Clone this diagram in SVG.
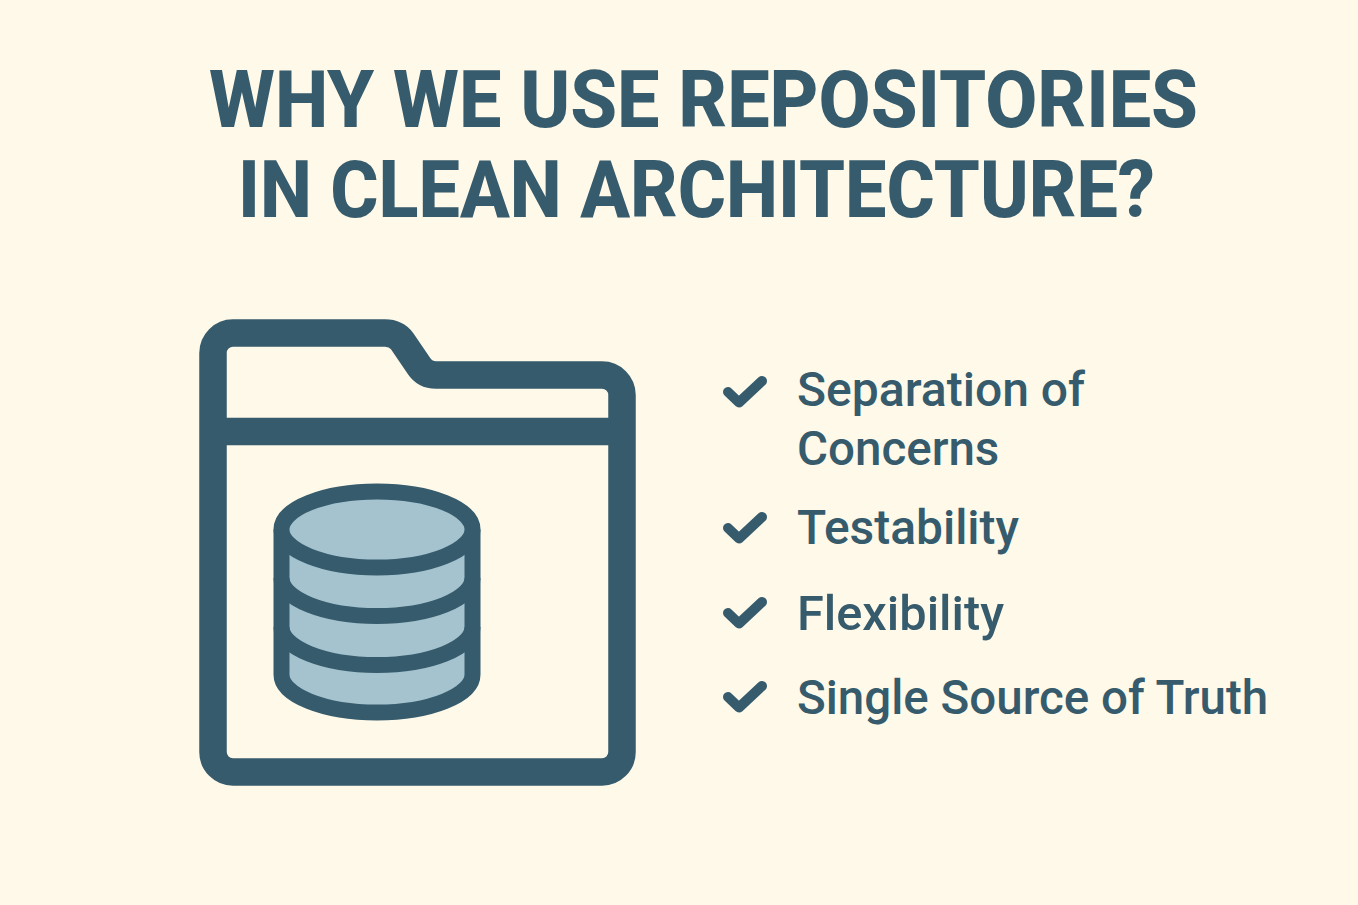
<svg xmlns="http://www.w3.org/2000/svg" width="1358" height="905" viewBox="0 0 1358 905">
<style>
.t{font-family:Roboto,"Liberation Sans",sans-serif;fill:#365b6c}
.h{font-size:79px;font-weight:800}
.b{font-size:47.5px;font-weight:500}
.l{fill:none;stroke:#365b6c;stroke-width:27.500;stroke-linejoin:round}
.d{fill:#a5c3cf;stroke:#365b6c;stroke-width:16}
.a{fill:none;stroke:#365b6c;stroke-width:16}
.c{fill:none;stroke:#365b6c;stroke-width:10;stroke-linecap:round;stroke-linejoin:round}
</style>
<defs><path id="ck" class="c" d="M728 392L739 402.500L762 381"/></defs>
<rect width="1358" height="905" fill="#fef9e9"/>
<g id="title">
<text class="t h" x="209" y="127" textLength="989" lengthAdjust="spacingAndGlyphs">WHY WE USE REPOSITORIES</text>
<text class="t h" x="238" y="217" textLength="917" lengthAdjust="spacingAndGlyphs">IN CLEAN ARCHITECTURE?</text>
</g>
<g id="folder">
<path class="l" d="M233 333H385Q396 333 402 341L419 366Q425 375 436 375H602A20 20 0 0 1 622 395V752A20 20 0 0 1 602 772H233A20 20 0 0 1 213 752V353A20 20 0 0 1 233 333Z"/>
<path class="l" d="M213 431.500H622"/>
</g>
<g id="database">
<path fill="#a5c3cf" d="M281.500 529.500V674.500A95.500 38 0 0 0 472.500 674.500V529.500Z"/>
<path class="a" d="M281.500 529.500V674.500A95.500 38 0 0 0 472.500 674.500V529.500"/>
<path class="a" d="M281.500 627A95.500 38 0 0 0 472.500 627M281.500 578A95.500 38 0 0 0 472.500 578"/>
<ellipse class="d" cx="377" cy="529.500" rx="95.500" ry="38"/>
</g>
<g id="item1"><use href="#ck"/><text class="t b" x="797" y="406" textLength="288" lengthAdjust="spacingAndGlyphs">Separation of</text><text class="t b" x="797" y="465">Concerns</text></g>
<g id="item2"><use href="#ck" y="136"/><text class="t b" x="797" y="544" textLength="222" lengthAdjust="spacingAndGlyphs">Testability</text></g>
<g id="item3"><use href="#ck" y="221"/><text class="t b" x="797" y="630" textLength="207" lengthAdjust="spacingAndGlyphs">Flexibility</text></g>
<g id="item4"><use href="#ck" y="305"/><text class="t b" x="797" y="714">Single Source of Truth</text></g>
</svg>
